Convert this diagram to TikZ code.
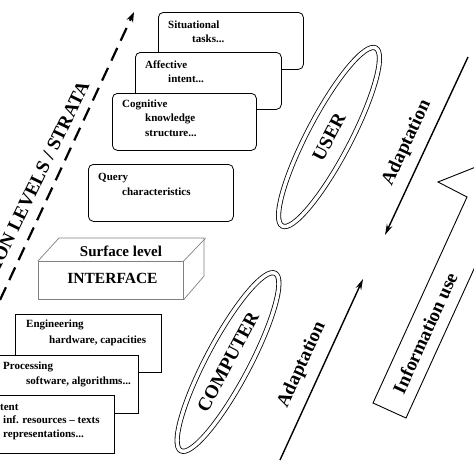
\documentclass[tikz,border=0pt]{standalone}
\usepackage{fontspec}
\setmainfont{Liberation Serif}
\usetikzlibrary{arrows.meta,shapes.geometric}
\begin{document}
\begin{tikzpicture}[x=1pt,y=-1pt,
  txt/.style={font=\fontsize{11}{13}\selectfont\bfseries, inner sep=0pt, anchor=base west},
  ubox/.style={draw, rounded corners=5pt, line width=0.8pt, fill=white, anchor=north west, minimum width=145pt, minimum height=57pt},
  lbox/.style={draw, line width=1.3pt, fill=white, anchor=north west, minimum height=58pt},
  oval/.style={draw, ellipse, double, double distance=3.5pt, line width=0.8pt, inner sep=0pt, minimum width=201pt, minimum height=43pt},
  big/.style={font=\fontsize{19}{22}\selectfont\bfseries, inner sep=0pt},
  adapt/.style={line width=1.4pt, -{Stealth[length=11pt,width=6pt]}},
  iface/.style={draw=gray, line width=0.7pt},
]
\useasboundingbox (0,0) rectangle (474,474);
\clip (0,0) rectangle (474,474);

% dashed arrow and strata label
\coordinate (ds) at (0,300);
\coordinate (de) at (134,12);
\draw[line width=2.2pt, dash pattern=on 14pt off 8pt, -{Stealth[length=10pt,width=7pt]}] (ds) -- (de);
\node[big, rotate=64, anchor=base east] (strata) at (90,85) {INTERACTION LEVELS / STRATA};

% upper rounded boxes
\node[ubox] (sit) at (158,12) {};
\node[txt] (sit1) at (168,28) {Situational};
\node[txt] (sit2) at (192,42) {tasks...};
\node[ubox, minimum width=146pt] (aff) at (135,52) {};
\node[txt] (aff1) at (145,68) {Affective};
\node[txt] (aff2) at (168,82) {intent...};
\node[ubox, minimum width=144pt] (cog) at (112,93) {};
\node[txt] (cog1) at (122,107) {Cognitive};
\node[txt] (cog2) at (145,121.5) {knowledge};
\node[txt] (cog3) at (145,136) {structure...};
\node[ubox] (qry) at (88,164) {};
\node[txt] (qry1) at (98,180) {Query};
\node[txt] (qry2) at (122,195) {characteristics};

% interface block
\node[iface, anchor=north west, minimum width=145pt, minimum height=38pt] (ifc) at (38,261) {};
\draw[iface] (ifc.north west) -- ++(21,-23) -- ++(145,0) -- ++(0,38) -- (ifc.south east);
\draw[iface] (ifc.north east) -- ++(22,-23);
\node[font=\fontsize{15}{18}\selectfont\bfseries, inner sep=0pt] (surf) at (121,251) {Surface level};
\node[font=\fontsize{15.5}{18}\selectfont\bfseries, inner sep=0pt] (ifct) at (112.5,278.5) {INTERFACE};

% lower boxes
\node[lbox, minimum width=146pt] (eng) at (15,314) {};
\node[txt] (eng1) at (26,327.5) {Engineering};
\node[txt] (eng2) at (49,343.5) {hardware, capacities};
\node[lbox, minimum width=150pt] (proc) at (-12,355) {};
\node[txt] (proc1) at (3,369.5) {Processing};
\node[txt] (proc2) at (26,384.5) {software, algorithms...};
\node[lbox, minimum width=126pt] (cont) at (-12,395) {};
\node[txt] (cont1) at (-19.6,410) {Content};
\node[txt] (cont2) at (3,423.5) {inf. resources -- texts};
\node[txt] (cont3) at (3,437) {representations...};

% ellipses
\node[oval, big, rotate=62.3] (user) at (329,137) {USER};
\node[oval, big, rotate=62] (comp) at (228,362) {COMPUTER};

% adaptation arrows
\coordinate (a1s) at (468,57);
\coordinate (a1e) at (385,235);
\draw[adapt] (a1s) -- (a1e);
\node[big, rotate=65] (ad1) at (407,143) {Adaptation};
\coordinate (a2s) at (280,460);
\coordinate (a2e) at (363,279);
\draw[adapt] (a2s) -- (a2e);
\node[big, rotate=65.4] (ad2) at (302,365) {Adaptation};

% big information-use arrow
\draw[line width=0.9pt, line join=miter] (406,418) -- (500,212) -- (530,224) -- (506,155) -- (438,182) -- (467,197) -- (373,403) -- cycle;
\node[big, rotate=65.5] (info) at (425,333) {Information use};
\end{tikzpicture}
\end{document}
